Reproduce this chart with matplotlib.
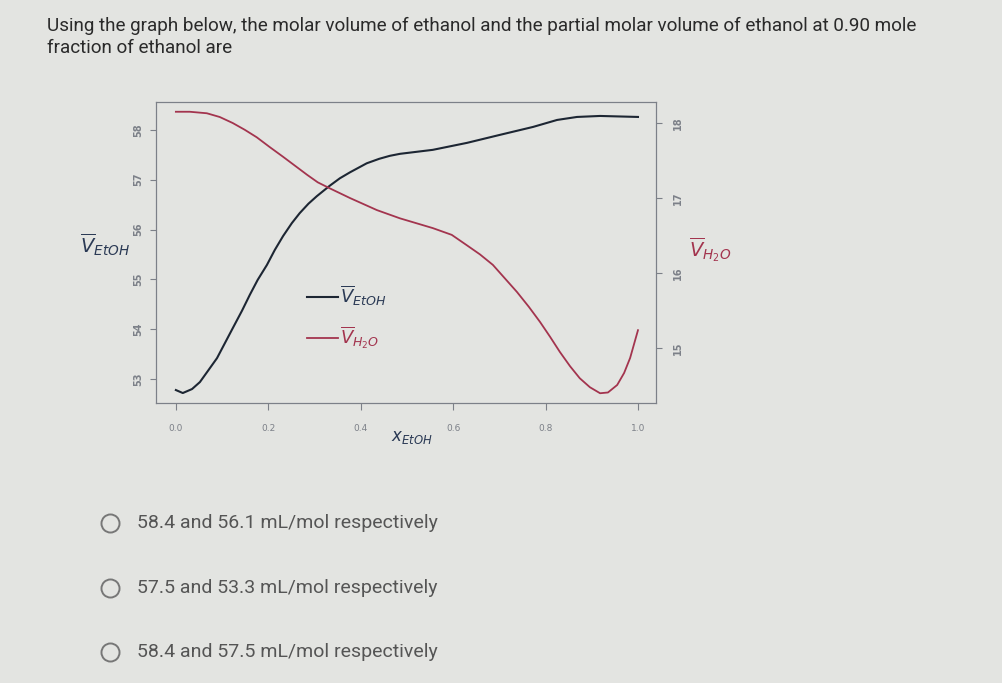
import numpy as np
import matplotlib.pyplot as plt

# mole fraction of ethanol and partial molar volumes
x_etoh = [0.0, 0.015, 0.035, 0.052, 0.069, 0.089, 0.106, 0.123, 0.143, 0.160, 0.177,
          0.197, 0.214, 0.232, 0.251, 0.268, 0.287, 0.305, 0.333, 0.355, 0.377, 0.413,
          0.440, 0.463, 0.485, 0.556, 0.630, 0.701, 0.773, 0.825, 0.868, 0.918, 1.0]
v_etoh = [52.78, 52.72, 52.80, 52.94, 53.16, 53.42, 53.72, 54.02, 54.37, 54.69, 54.99,
          55.29, 55.59, 55.87, 56.13, 56.33, 56.52, 56.67, 56.88, 57.03, 57.15, 57.33,
          57.42, 57.48, 57.52, 57.60, 57.74, 57.90, 58.06, 58.20, 58.26, 58.28, 58.26]

x_h2o = [0.0, 0.03, 0.067, 0.095, 0.123, 0.149, 0.175, 0.203, 0.232, 0.258, 0.284,
         0.307, 0.333, 0.377, 0.435, 0.485, 0.556, 0.597, 0.630, 0.658, 0.686,
         0.712, 0.738, 0.764, 0.788, 0.810, 0.831, 0.853, 0.874, 0.896, 0.918,
         0.935, 0.955, 0.970, 0.983, 1.0]
v_h2o = [18.15, 18.15, 18.13, 18.08, 18.00, 17.91, 17.81, 17.68, 17.55, 17.43, 17.31,
         17.21, 17.13, 17.00, 16.84, 16.73, 16.60, 16.51, 16.37, 16.25, 16.11,
         15.93, 15.75, 15.55, 15.35, 15.15, 14.95, 14.76, 14.60, 14.48, 14.40,
         14.41, 14.51, 14.67, 14.87, 15.24]

left_ticks = [53, 54, 55, 56, 57, 58]
right_ticks = [15, 16, 17, 18]
x_ticks = [0.0, 0.2, 0.4, 0.6, 0.8, 1.0]

question = ("Using the graph below, the molar volume of ethanol and the partial molar volume of ethanol at 0.90 mole\n"
            "fraction of ethanol are")
options = ["58.4 and 56.1 mL/mol respectively",
           "57.5 and 53.3 mL/mol respectively",
           "58.4 and 57.5 mL/mol respectively"]

bg = '#e3e4e1'
black_c = '#1d2633'
red_c = '#a3344e'
spine_c = '#7c8088'
tick_c = '#5a6070'

fig = plt.figure(figsize=(10.02, 6.83), dpi=100, facecolor=bg)

fig.text(47/1002, 1-17/683, question, ha='left', va='top', fontsize=13.6,
         family='Roboto', color='#2a2a2a', linespacing=1.3)

ax = fig.add_axes([156/1002, 1-403/683, 500/1002, 301/683])
ax.set_facecolor(bg)
ax.plot(x_etoh, v_etoh, color=black_c, lw=1.5)
ax.set_xlim(-0.043, 1.039)
ax.set_ylim(52.52, 58.56)
ax.set_xticks(x_ticks)
ax.set_xticklabels(['%.1f' % t for t in x_ticks], fontsize=6.5, color=tick_c)
ax.set_yticks(left_ticks)
ax.set_yticklabels([str(t) for t in left_ticks], rotation=90, va='center',
                   fontsize=7, color=tick_c, fontweight='bold')
for s in ax.spines.values():
    s.set_color(spine_c)
ax.tick_params(colors=spine_c, length=4, width=0.8)
ax.tick_params(axis='x', length=5, pad=10)
ax.tick_params(axis='y', pad=5)

ax2 = ax.twinx()
ax2.plot(x_h2o, v_h2o, color=red_c, lw=1.3)
ax2.set_ylim(14.27, 18.28)
ax2.set_yticks(right_ticks)
ax2.set_yticklabels([str(t) for t in right_ticks], rotation=90, va='center',
                    fontsize=7, color=tick_c, fontweight='bold')
for s in ax2.spines.values():
    s.set_color(spine_c)
ax2.tick_params(colors=spine_c, length=4, width=0.8, pad=8)

# legend
l1, = ax.get_lines()
l2, = ax2.get_lines()
leg = ax.legend([l1, l2], [r'$\overline{V}_{EtOH}$', r'$\overline{V}_{H_2O}$'],
                loc='upper left', bbox_to_anchor=(0.27, 0.45), frameon=False,
                fontsize=13, handlelength=1.7, handletextpad=0.1, labelspacing=0.9)
for t, c in zip(leg.get_texts(), ['#2b3a55', red_c]):
    t.set_color(c)

# axis labels
fig.text(105/1002, 1-245/683, r'$\overline{V}_{EtOH}$', ha='center', va='center',
         fontsize=14, color='#2b3a55')
fig.text(710/1002, 1-250/683, r'$\overline{V}_{H_2O}$', ha='center', va='center',
         fontsize=14, color=red_c)
fig.text(412/1002, 1-437/683, r'$x_{EtOH}$', ha='center', va='center',
         fontsize=12, color='#2b3a55')

# answer options
over = fig.add_axes([0, 0, 1, 1], facecolor='none')
over.set_xlim(0, 1002)
over.set_ylim(683, 0)
over.axis('off')
opt_y = [523, 588, 652]
over.plot([110] * len(opt_y), opt_y, 'o', ms=13, mfc='none', mec='#777777', mew=1.4)
for yy, txt in zip(opt_y, options):
    over.text(137, yy, txt, ha='left', va='center', fontsize=14,
              family='Roboto', color='#555555')

fig.savefig('out.png', dpi=100, facecolor=bg)
